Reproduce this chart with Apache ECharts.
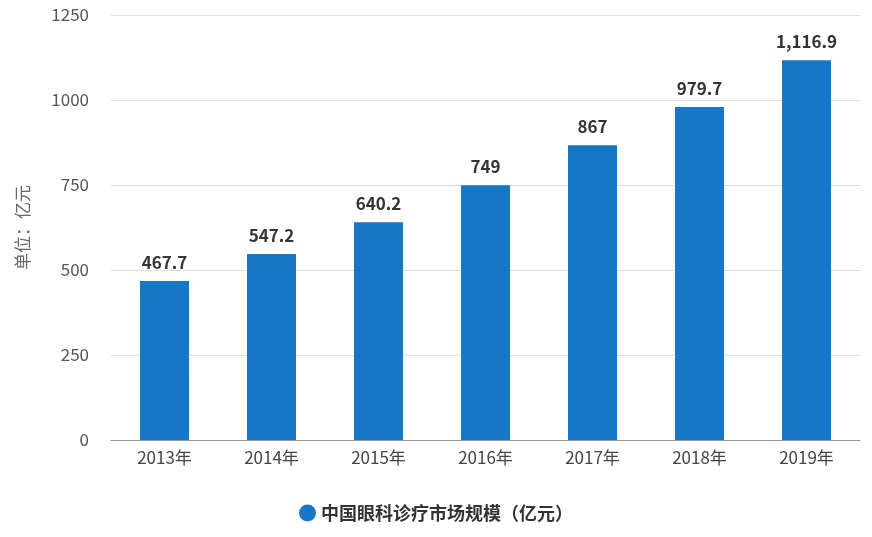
<!DOCTYPE html>
<html>
<head>
<meta charset="utf-8">
<script src="https://cdn.jsdelivr.net/npm/echarts@6/dist/echarts.min.js"></script>
<style>html,body{margin:0;padding:0;background:#fff}#c{width:872px;height:537px}</style>
</head>
<body>
<div id="c"></div>
<script>
var categories = ['2013年','2014年','2015年','2016年','2017年','2018年','2019年'];
var values = [467.7, 547.2, 640.2, 749, 867, 979.7, 1116.9];
var seriesName = '中国眼科诊疗市场规模（亿元）';
var yTicks = [0, 250, 500, 750, 1000, 1250];

var font = '"Noto Sans CJK SC", "Noto Sans", sans-serif';
var chart = echarts.init(document.getElementById('c'));
chart.setOption({
  animation: false,
  textStyle: {fontFamily: font},
  grid: {left: 111, right: 12, top: 15, bottom: 97},
  legend: {
    bottom: 10, left: 'center',
    icon: 'circle', itemWidth: 17, itemHeight: 17, itemGap: 10,
    textStyle: {fontSize: 18, fontWeight: 'bold', color: '#333', fontFamily: font},
    data: [seriesName]
  },
  xAxis: {
    type: 'category', data: categories,
    axisLine: {lineStyle: {color: '#999'}},
    axisTick: {alignWithLabel: true, length: 6, lineStyle: {color: '#999'}},
    axisLabel: {fontSize: 17, color: '#444', margin: 9}
  },
  yAxis: {
    type: 'value', min: yTicks[0], max: yTicks[yTicks.length-1], interval: 250,
    name: '单位：亿元', nameLocation: 'middle', nameGap: 80, nameRotate: 90,
    nameTextStyle: {fontSize: 17, color: '#666'},
    axisLine: {show: false}, axisTick: {show: false},
    axisLabel: {fontSize: 17, color: '#555', margin: 22, formatter: function(v){ return String(v); }},
    splitLine: {lineStyle: {color: '#ddd'}}
  },
  series: [{
    name: seriesName, type: 'bar', data: values, barWidth: 49,
    itemStyle: {color: '#1677c7'},
    label: {
      show: true, position: 'top', distance: 10,
      fontSize: 17, fontWeight: 'bold', color: '#333',
      formatter: function(p){ return p.value.toLocaleString('en-US'); }
    }
  }]
});
</script>
</body>
</html>
